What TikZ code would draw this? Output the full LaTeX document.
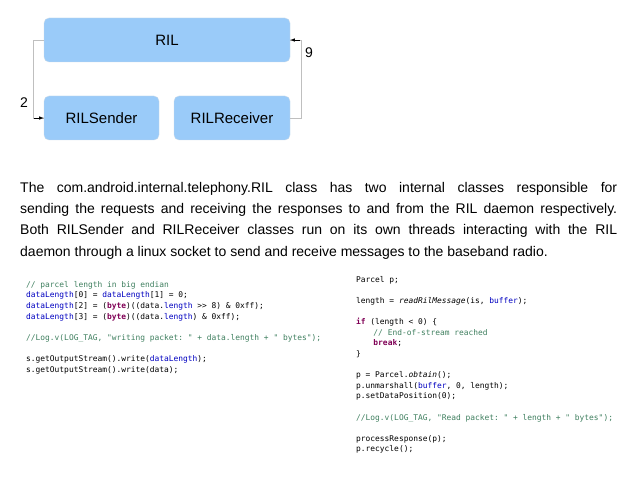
\documentclass[tikz,border=0pt]{standalone}
\usepackage{fontspec}
\setmainfont{Liberation Sans}
\setmonofont{DejaVu Sans Mono}
\usepackage{xcolor}
\usetikzlibrary{positioning}
\definecolor{boxblue}{HTML}{9ACBF9}
\definecolor{kw}{HTML}{7F0055}
\definecolor{fld}{HTML}{0000C0}
\definecolor{cmt}{HTML}{3F7F5F}
\newcommand{\kw}[1]{\textcolor{kw}{\textbf{#1}}}
\newcommand{\fld}[1]{\textcolor{fld}{#1}}
\newcommand{\cmt}[1]{\textcolor{cmt}{#1}}

\begin{document}
\begin{tikzpicture}[x=1pt, y=-1pt,
    block/.style={rectangle, rounded corners=5pt, fill=boxblue, draw=boxblue!80!black!40, inner sep=0pt, font=\fontsize{15}{18}\selectfont},
    link/.style={draw=black!25, line width=0.6pt},
    arrow/.style={-latex, line width=0.6pt},
    code/.style={anchor=north west, align=left, inner sep=0pt, font=\ttfamily\fontsize{7.9}{10.6}\selectfont}
]
    \useasboundingbox (0,0) rectangle (638,478);
    % Blocks
    \node[block, minimum width=246pt, minimum height=44pt] (ril) at (167,40) {RIL};
    \node[block, minimum width=115pt, minimum height=44pt] (sender) at (101.5,118) {RILSender};
    \node[block, minimum width=116pt, minimum height=44pt] (receiver) at (232,118) {RILReceiver};

    % Connectors
    \coordinate (lt) at (33,40);
    \coordinate (rt) at (301,40);
    \draw[link] (ril.west) -- (lt) |- (sender.west);
    \draw[link] (receiver.east) -| (rt) -- (ril.east);
    \draw[arrow] ([xshift=-10pt]sender.west) -- (sender.west);
    \draw[arrow] ([xshift=10pt]ril.east) -- (ril.east);
    \node[font=\fontsize{14}{16}\selectfont] (two) at (24,103) {2};
    \node[font=\fontsize{14}{16}\selectfont] (nine) at (309,53) {9};

    % Description
    \node[anchor=north west, inner sep=0pt, text width=597pt, align=justify,
          font=\fontsize{14}{21.3}\selectfont] (desc) at (20,182)
    {\frenchspacing
     The com.android.internal.telephony.RIL class has two internal classes responsible for\linebreak sending the requests and receiving the responses to and from the RIL daemon respectively.\linebreak Both RILSender and RILReceiver classes run on its own threads interacting with the RIL\linebreak daemon through a linux socket to send and receive messages to the baseband radio.};

    % Sender code
    \node[code] (sendcode) at (26,281) {%
    \cmt{// parcel length in big endian}\\
    \fld{dataLength}[0] = \fld{dataLength}[1] = 0;\\
    \fld{dataLength}[2] = (\kw{byte})((data.\fld{length} >> 8) \& 0xff);\\
    \fld{dataLength}[3] = (\kw{byte})((data.\fld{length}) \& 0xff);\\[10.6pt]
    \cmt{//Log.v(LOG\_TAG, "writing packet: " + data.length + " bytes");}\\[10.6pt]
    s.getOutputStream().write(\fld{dataLength});\\
    s.getOutputStream().write(data);};

    % Receiver code
    \node[code] (recvcode) at (356,276) {%
    Parcel p;\\[10.6pt]
    length = \textit{readRilMessage}(is, \fld{buffer});\\[10.6pt]
    \kw{if} (length < 0) \{\\
    \hspace*{4ex}\cmt{// End-of-stream reached}\\
    \hspace*{4ex}\kw{break};\\
    \}\\[10.6pt]
    p = Parcel.\textit{obtain}();\\
    p.unmarshall(\fld{buffer}, 0, length);\\
    p.setDataPosition(0);\\[10.6pt]
    \cmt{//Log.v(LOG\_TAG, "Read packet: " + length + " bytes");}\\[10.6pt]
    processResponse(p);\\
    p.recycle();};
\end{tikzpicture}
\end{document}
